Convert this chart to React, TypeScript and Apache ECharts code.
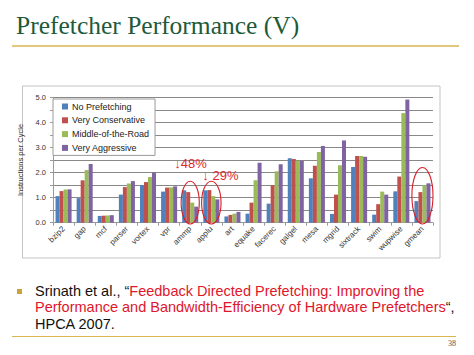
import React, { useEffect, useRef } from "react";
import * as echarts from "echarts";

const categories = [
  "bzip2", "gap", "mcf", "parser", "vortex", "vpr", "ammp", "applu", "art",
  "equake", "facerec", "galgel", "mesa", "mgrid", "sixtrack", "swim", "wupwise", "gmean",
];
const seriesNames = ["No Prefetching", "Very Conservative", "Middle-of-the-Road", "Very Aggressive"];
const noPrefetching = [1.06, 0.98, 0.27, 1.12, 1.50, 1.24, 1.29, 1.29, 0.25, 0.36, 0.76, 2.57, 1.77, 0.35, 2.22, 0.32, 1.25, 0.86];
const veryConservative = [1.26, 1.69, 0.28, 1.42, 1.62, 1.40, 1.22, 1.30, 0.31, 0.80, 1.50, 2.54, 2.27, 1.12, 2.66, 0.74, 1.84, 1.22];
const middleOfTheRoad = [1.32, 2.10, 0.29, 1.56, 1.82, 1.41, 0.80, 1.06, 0.36, 1.69, 2.05, 2.47, 2.82, 2.29, 2.66, 1.24, 4.37, 1.50];
const veryAggressive = [1.33, 2.34, 0.30, 1.66, 2.00, 1.45, 0.64, 0.93, 0.43, 2.39, 2.33, 2.47, 3.06, 3.28, 2.63, 1.12, 4.91, 1.57];
const seriesColors = ["#4F81BD", "#C0504D", "#9BBB59", "#8064A2"];
const yMin = 0;
const yMax = 5;
const yInterval = 0.5;

// annotated ellipses: category, value span, half width in category units
const ellipses = [
  { category: "ammp", low: -0.05, high: 1.65, halfCat: 0.43 },
  { category: "applu", low: -0.05, high: 1.65, halfCat: 0.46 },
  { category: "gmean", low: -0.05, high: 2.2, halfCat: 0.5 },
];
const dropLabels = [
  { category: "ammp", text: "\u219348%", value: 2.36, dx: -16 },
  { category: "applu", text: "\u2193 29%", value: 1.88, dx: -9 },
];

export default function App() {
  const ref = useRef<HTMLDivElement>(null);
  useEffect(() => {
    if (!ref.current) return;
    const chart = echarts.init(ref.current, null, { renderer: "svg" });
    const font = "Liberation Sans";
    const allSeries = [noPrefetching, veryConservative, middleOfTheRoad, veryAggressive];
    const option: any = {
      animation: false,
      textStyle: { fontFamily: font },
      grid: { left: 53, right: 41, top: 97.3, bottom: 132.3, containLabel: false },
      legend: {
        data: seriesNames,
        orient: "vertical",
        left: 53,
        top: 99,
        itemWidth: 6,
        itemHeight: 6,
        itemGap: 4.8,
        icon: "rect",
        padding: [3, 6, 3, 9],
        backgroundColor: "#ffffff",
        borderColor: "#9a9a9a",
        borderWidth: 1,
        borderRadius: 0,
        textStyle: { fontFamily: font, fontSize: 9, color: "#222", padding: [0, 0, 0, -1] },
      },
      xAxis: {
        type: "category",
        data: categories,
        axisLine: { lineStyle: { color: "#9a9a9a", width: 1 } },
        axisTick: { show: true, length: 3, lineStyle: { color: "#9a9a9a" } },
        axisLabel: { rotate: 45, fontSize: 8, color: "#333", margin: 5, interval: 0 },
      },
      yAxis: {
        type: "value",
        min: yMin,
        max: yMax,
        interval: yInterval,
        name: "Instructions per Cycle",
        nameLocation: "middle",
        nameGap: 24,
        nameTextStyle: { fontSize: 7.5, color: "#333" },
        axisLine: { show: true, lineStyle: { color: "#9a9a9a" } },
        axisTick: { show: true, length: 3, lineStyle: { color: "#9a9a9a" } },
        axisLabel: {
          fontSize: 7.5,
          color: "#333",
          margin: 7,
          formatter: (v: number) => (Math.abs(v - Math.round(v)) < 1e-6 ? v.toFixed(1) : ""),
        },
        splitLine: { show: true, lineStyle: { color: "#888", width: 1 } },
      },
      series: seriesNames.map((name, i) => ({
        name,
        type: "bar",
        data: allSeries[i],
        barGap: "0%",
        barCategoryGap: "24%",
        itemStyle: { color: seriesColors[i] },
        z: 3,
      })),
    };
    chart.setOption(option);

    const px = (cat: string) => chart.convertToPixel({ xAxisIndex: 0 }, cat) as number;
    const py = (v: number) => chart.convertToPixel({ yAxisIndex: 0 }, v) as number;
    const catW = px(categories[1]) - px(categories[0]);

    const graphics: any[] = [
      {
        type: "text",
        left: 16,
        top: 12,
        style: {
          text: "Prefetcher Performance (V)",
          font: "25.5px 'Liberation Serif'",
          fill: "#1d5a3a",
        },
      },
      {
        type: "line",
        shape: { x1: 12, y1: 46, x2: 459, y2: 46 },
        style: { stroke: "#d8b650", lineWidth: 1.5 },
      },
      {
        type: "rect",
        shape: { x: 22.5, y: 86, width: 417.5, height: 172 },
        style: { fill: "none", stroke: "#c4c4c4", lineWidth: 1 },
        z: 0,
      },
      {
        type: "rect",
        shape: { x: 17, y: 289, width: 5, height: 5 },
        style: { fill: "#c9a437" },
      },
      {
        type: "text",
        x: 35,
        y: 282.5,
        style: {
          text:
            "{b|Srinath et al., \u201C}{r|Feedback Directed Prefetching: Improving the}\n" +
            "{r|Performance and Bandwidth-Efficiency of Hardware Prefetchers}{b|\u201C,}\n" +
            "{b|HPCA 2007.}",
          font: "14.5px 'Liberation Sans'",
          lineHeight: 16.5,
          rich: {
            b: { fill: "#111", font: "14.5px 'Liberation Sans'", lineHeight: 16.5 },
            r: { fill: "#e0162b", font: "14.5px 'Liberation Sans'", lineHeight: 16.5 },
          },
        },
      },
      {
        type: "line",
        shape: { x1: 12, y1: 336.5, x2: 456, y2: 336.5 },
        style: { stroke: "#d8b650", lineWidth: 1.2 },
      },
      {
        type: "text",
        x: 448,
        y: 339.5,
        style: { text: "38", font: "8px 'Liberation Serif'", fill: "#555" },
      },
    ];

    ellipses.forEach((e) => {
      const cx = px(e.category);
      const yTop = py(e.high);
      const yBot = py(e.low);
      graphics.push({
        type: "ellipse",
        shape: { cx, cy: (yTop + yBot) / 2, rx: e.halfCat * catW, ry: (yBot - yTop) / 2 },
        style: { fill: "none", stroke: "#d41f26", lineWidth: 1.1 },
        z: 10,
      });
    });
    dropLabels.forEach((d) => {
      graphics.push({
        type: "text",
        x: px(d.category) + d.dx,
        y: py(d.value),
        style: {
          text: d.text,
          font: "13px 'Liberation Sans'",
          fill: "#e0262b",
          verticalAlign: "middle",
        },
        z: 10,
      });
    });

    chart.setOption({ graphic: graphics });
    return () => chart.dispose();
  }, []);

  return (
    <div
      ref={ref}
      style={{ position: "absolute", left: 0, top: 0, width: 474, height: 355, background: "#fff" }}
    />
  );
}
